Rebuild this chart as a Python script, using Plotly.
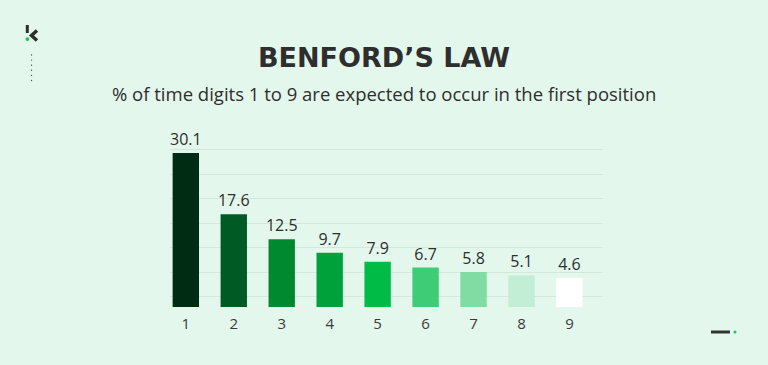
import plotly.graph_objects as go

digits = [1, 2, 3, 4, 5, 6, 7, 8, 9]
digit_labels = ["1", "2", "3", "4", "5", "6", "7", "8", "9"]
percent = [30.1, 17.6, 12.5, 9.7, 7.9, 6.7, 5.8, 5.1, 4.6]
bar_colors = ["#002c13", "#005a23", "#00892f", "#00a13a", "#00bc47",
              "#3ecd76", "#80dca3", "#c1eed4", "#ffffff"]

title_text = "BENFORD’S LAW"
subtitle_text = "% of time digits 1 to 9 are expected to occur in the first position"

BG = "#e3f7ec"
TEXT = "#2e2e2e"
BASE = -1.35

# plot area in pixels
L, R, T, B = 170, 603, 125, 307
W, H = 768, 365


def px(x):
    return (x - L) / (R - L)


def py(y):
    return (B - y) / (B - T)


fig = go.Figure()
fig.add_trace(go.Bar(
    x=digits,
    y=[v - BASE for v in percent],
    base=BASE,
    width=0.55,
    marker=dict(color=bar_colors, line=dict(width=0)),
    text=[f"{v:.1f}" for v in percent],
    textposition="outside",
    constraintext="none",
    textfont=dict(family="Open Sans", size=16, color=TEXT),
    cliponaxis=False,
    hoverinfo="skip",
))

shapes = []
# dotted vertical line (logo decoration)
for i in range(6):
    yy = 55 + i * 5.1
    shapes.append(dict(type="circle", xref="paper", yref="paper",
                       x0=px(30.8), x1=px(32.2), y0=py(yy - 0.7), y1=py(yy + 0.7),
                       fillcolor="#555555", line=dict(width=0)))
# logo: stylised k
shapes.append(dict(type="line", xref="paper", yref="paper",
                   x0=px(27.3), x1=px(27.3), y0=py(25), y1=py(33),
                   line=dict(color="#2e2e2e", width=3)))
shapes.append(dict(type="path", xref="paper", yref="paper",
                   path=(f"M {px(37)} {py(30.5)} L {px(31.5)} {py(35.5)} "
                         f"L {px(37)} {py(40.5)}"),
                   line=dict(color="#2e2e2e", width=3.5)))
shapes.append(dict(type="circle", xref="paper", yref="paper",
                   x0=px(25.5), x1=px(29.3), y0=py(37.2), y1=py(41),
                   fillcolor="#1fc24f", line=dict(width=0)))
# bottom-right dash
shapes.append(dict(type="line", xref="paper", yref="paper",
                   x0=px(711), x1=px(730), y0=py(332), y1=py(332),
                   line=dict(color="#333333", width=3)))
shapes.append(dict(type="circle", xref="paper", yref="paper",
                   x0=px(733.5), x1=px(736.5), y0=py(330.5), y1=py(333.5),
                   fillcolor="#1fc24f", line=dict(width=0)))

annotations = [
    dict(text=f"<b>{title_text}</b>", xref="paper", yref="paper",
         x=px(384), y=py(57.5), xanchor="center", yanchor="middle", showarrow=False,
         font=dict(family="DejaVu Sans", size=27, color=TEXT, weight=800)),
    dict(text=subtitle_text, xref="paper", yref="paper",
         x=px(384), y=py(93), xanchor="center", yanchor="middle", showarrow=False,
         font=dict(family="Open Sans", size=18.5, color=TEXT)),
]

fig.update_layout(
    width=W, height=H,
    margin=dict(l=L, r=W - R, t=T, b=H - B, pad=0),
    paper_bgcolor=BG, plot_bgcolor=BG,
    showlegend=False,
    bargap=0.45,
    shapes=shapes,
    annotations=annotations,
    xaxis=dict(range=[0.67, 9.70], tickmode="array", tickvals=digits,
               ticktext=digit_labels, showgrid=False, zeroline=False,
               showline=False, ticks="", ticklen=0, ticklabelstandoff=6,
               tickfont=dict(family="Open Sans", size=15, color="#3a3a3a")),
    yaxis=dict(range=[BASE, 35.8], tick0=0.7, dtick=5, showgrid=True,
               gridcolor="#d0e9da", gridwidth=1, zeroline=False,
               showticklabels=False, showline=False, ticks=""),
)

fig.write_html("out.html", config={"displayModeBar": False},
               post_script="document.body.style.margin='0';document.body.style.overflow='hidden';")
